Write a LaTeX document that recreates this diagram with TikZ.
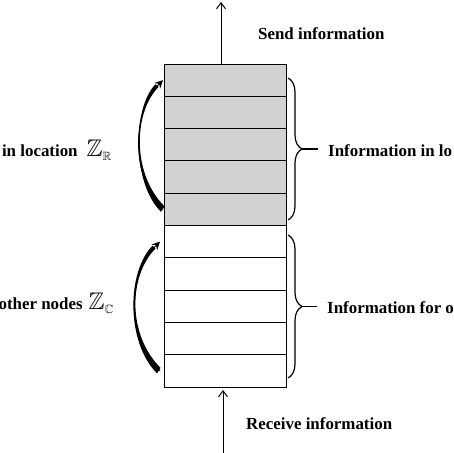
\documentclass[tikz,border=0pt]{standalone}
\usepackage{amssymb}
\usepackage{fontspec}
\setmainfont{Liberation Serif}
\usetikzlibrary{positioning,arrows.meta,decorations.pathreplacing}

\begin{document}
\begin{tikzpicture}[
        x=1pt, y=1pt,
        cell/.style={draw, line width=0.8pt, minimum width=122pt, minimum height=32.3pt, inner sep=0pt, outer sep=0pt},
        shaded/.style={fill=gray!35},
        lbl/.style={font=\fontsize{16.9}{20}\selectfont\bfseries, inner sep=0pt},
        flow/.style={line width=1pt, -{Straight Barb[length=6pt,width=9pt]}},
        brace/.style={decorate, decoration={brace, amplitude=14pt}, line width=1.2pt},
        stub/.style={line width=1.2pt},
        loopback/.style={line width=0.9pt, -{Stealth[length=8pt,width=8pt]}}
    ]
    \useasboundingbox (0,0) rectangle (453,453);
    \clip (0,0) rectangle (453,453);

    \node[cell, shaded] (r1) at (225,372.85) {};
    \node[cell, shaded, below=0pt of r1] (r2) {};
    \node[cell, shaded, below=0pt of r2] (r3) {};
    \node[cell, shaded, below=0pt of r3] (r4) {};
    \node[cell, shaded, below=0pt of r4] (r5) {};
    \node[cell, below=0pt of r5] (r6) {};
    \node[cell, below=0pt of r6] (r7) {};
    \node[cell, below=0pt of r7] (r8) {};
    \node[cell, below=0pt of r8] (r9) {};
    \node[cell, below=0pt of r9] (r10) {};

    \coordinate (sendtip) at (221,451);
    \coordinate (recvfoot) at (223,0);
    \draw[flow] ([xshift=-4pt]r1.north) -- (sendtip);
    \draw[flow, shorten >=3pt] (recvfoot) -- ([xshift=-2pt]r10.south);

    \node[lbl, anchor=west] (send) at (258,419) {Send information};
    \node[lbl, anchor=west] (recv) at (246,29) {Receive information};

    \draw[brace] ([shift={(2,-14)}]r1.north east) -- ([shift={(2,5.5)}]r5.south east) coordinate[midway] (midA);
    \draw[brace] ([shift={(2,-9.5)}]r6.north east) -- ([shift={(2,9)}]r10.south east) coordinate[midway] (midB);
    \node[lbl, anchor=west] (infoA) at (328,302) {Information in lo};
    \node[lbl, anchor=west] (infoB) at (327,145) {Information for o};
    \draw[stub] ([xshift=14pt]midA) -- ([xshift=-10pt]infoA.west |- midA);
    \draw[stub] ([xshift=14pt]midB) -- ([xshift=-10pt]infoB.west |- midB);

    \fill ([shift={(-3,-2.5)}]r5.west) .. controls +(-29.7,29.7) and +(-23.1,-23.1) .. ([shift={(-8.4,-4)}]r1.west)
        -- ([shift={(-5.5,-6.9)}]r1.west) .. controls +(-24.6,-24.6) and +(-33.3,33.3) .. ([shift={(0.5,3)}]r5.west) -- cycle;
    \draw[loopback] ([xshift=-1pt]r5.west) .. controls +(-32,32) and +(-32,-32) .. ([xshift=-1pt]r1.west);

    \fill ([shift={(-7,-2.5)}]r10.west) .. controls +(-31.2,31.2) and +(-25.9,-25.9) .. ([shift={(-11.4,-4)}]r6.west)
        -- ([shift={(-8.5,-6.9)}]r6.west) .. controls +(-26.8,-26.8) and +(-33.5,33.5) .. ([shift={(-3.5,3)}]r10.west) -- cycle;
    \draw[loopback] ([xshift=-4pt]r10.west) .. controls +(-33.5,33.5) and +(-33.5,-33.5) .. ([xshift=-4pt]r6.west);

    \node[lbl, anchor=east] (locR) at (112,303) {in location\hspace{9pt}{\fontsize{24}{26}\selectfont\mdseries$\mathbb{Z}_{\scriptscriptstyle\mathbb{R}}$}};
    \node[lbl, anchor=east] (othC) at (114,150) {other nodes\hspace{6pt}{\fontsize{24}{26}\selectfont\mdseries$\mathbb{Z}_{\scriptscriptstyle\mathbb{C}}$}};
\end{tikzpicture}
\end{document}
